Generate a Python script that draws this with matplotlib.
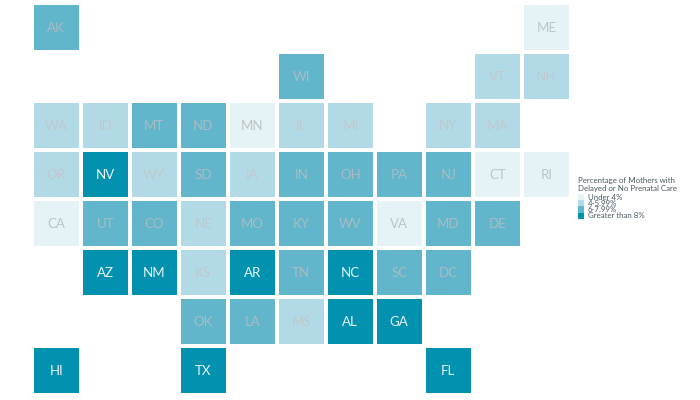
import matplotlib
matplotlib.use("Agg")
import matplotlib.pyplot as plt
from matplotlib.patches import Rectangle

# Tile-grid layout of the states, one row per list, and each state's care band.
states = ["AK", "ME", "WI", "VT", "NH", "WA", "ID", "MT", "ND", "MN", "IL", "MI", "NY", "MA",
          "OR", "NV", "WY", "SD", "IA", "IN", "OH", "PA", "NJ", "CT", "RI",
          "CA", "UT", "CO", "NE", "MO", "KY", "WV", "VA", "MD", "DE",
          "AZ", "NM", "KS", "AR", "TN", "NC", "SC", "DC",
          "OK", "LA", "MS", "AL", "GA", "HI", "TX", "FL"]
grid_rows = [0, 0, 1, 1, 1, 2, 2, 2, 2, 2, 2, 2, 2, 2,
             3, 3, 3, 3, 3, 3, 3, 3, 3, 3, 3,
             4, 4, 4, 4, 4, 4, 4, 4, 4, 4,
             5, 5, 5, 5, 5, 5, 5, 5,
             6, 6, 6, 6, 6, 7, 7, 7]
grid_cols = [0, 10, 5, 9, 10, 0, 1, 2, 3, 4, 5, 6, 8, 9,
             0, 1, 2, 3, 4, 5, 6, 7, 8, 9, 10,
             0, 1, 2, 3, 4, 5, 6, 7, 8, 9,
             1, 2, 3, 4, 5, 6, 7, 8,
             3, 4, 5, 6, 7, 0, 3, 8]
care_band = [2, 0, 2, 1, 1, 1, 1, 2, 2, 0, 1, 1, 1, 1,
             1, 3, 1, 2, 1, 2, 2, 2, 2, 0, 0,
             0, 2, 2, 1, 2, 2, 2, 0, 2, 2,
             3, 3, 1, 3, 2, 3, 2, 2,
             2, 2, 1, 3, 3, 3, 3, 3]
band_labels = ["Under 4%", "4-5.99%", "6-7.99%", "Greater than 8%"]
legend_title = ["Percentage of Mothers with", "Delayed or No Prenatal Care"]

band_colors = ["#e5f3f6", "#b2dae6", "#62b6cb", "#0391b0"]
label_colors = ["#bcc4c6", "#bfc9cd", "#a9bcc3", "#e8f4f7"]

plt.rcParams["font.family"] = ["Lato", "DejaVu Sans"]

fig = plt.figure(figsize=(7, 4), dpi=100)
ax = fig.add_axes([0, 0, 1, 1])
ax.set_xlim(0, 700)
ax.set_ylim(400, 0)
ax.axis("off")

# Tiles sit on a regular 49 px lattice.
x0, y0, pitch, side = 34, 5, 49, 44.5
for name, r, c, band in zip(states, grid_rows, grid_cols, care_band):
    x = x0 + c * pitch
    y = y0 + r * pitch
    ax.add_patch(Rectangle((x, y), side, side, facecolor=band_colors[band], edgecolor="none"))
    ax.text(x + side / 2, y + side / 2 + 0.5, name, ha="center", va="center",
            fontsize=9.5, color=label_colors[band])

# Legend: stacked swatches under a two-line title.
for i, line in enumerate(legend_title):
    ax.text(578, 180 + i * 8.2, line, ha="left", va="center", fontsize=5.7, color="#4a5a60")
for i, (label, color) in enumerate(zip(band_labels, band_colors)):
    y = 194 + i * 6.2
    ax.add_patch(Rectangle((578, y), 6, 6.2, facecolor=color, edgecolor="none"))
    ax.text(588, y + 3, label, ha="left", va="center", fontsize=5.7, color="#4a5a60")

fig.savefig("out.png", dpi=100)
